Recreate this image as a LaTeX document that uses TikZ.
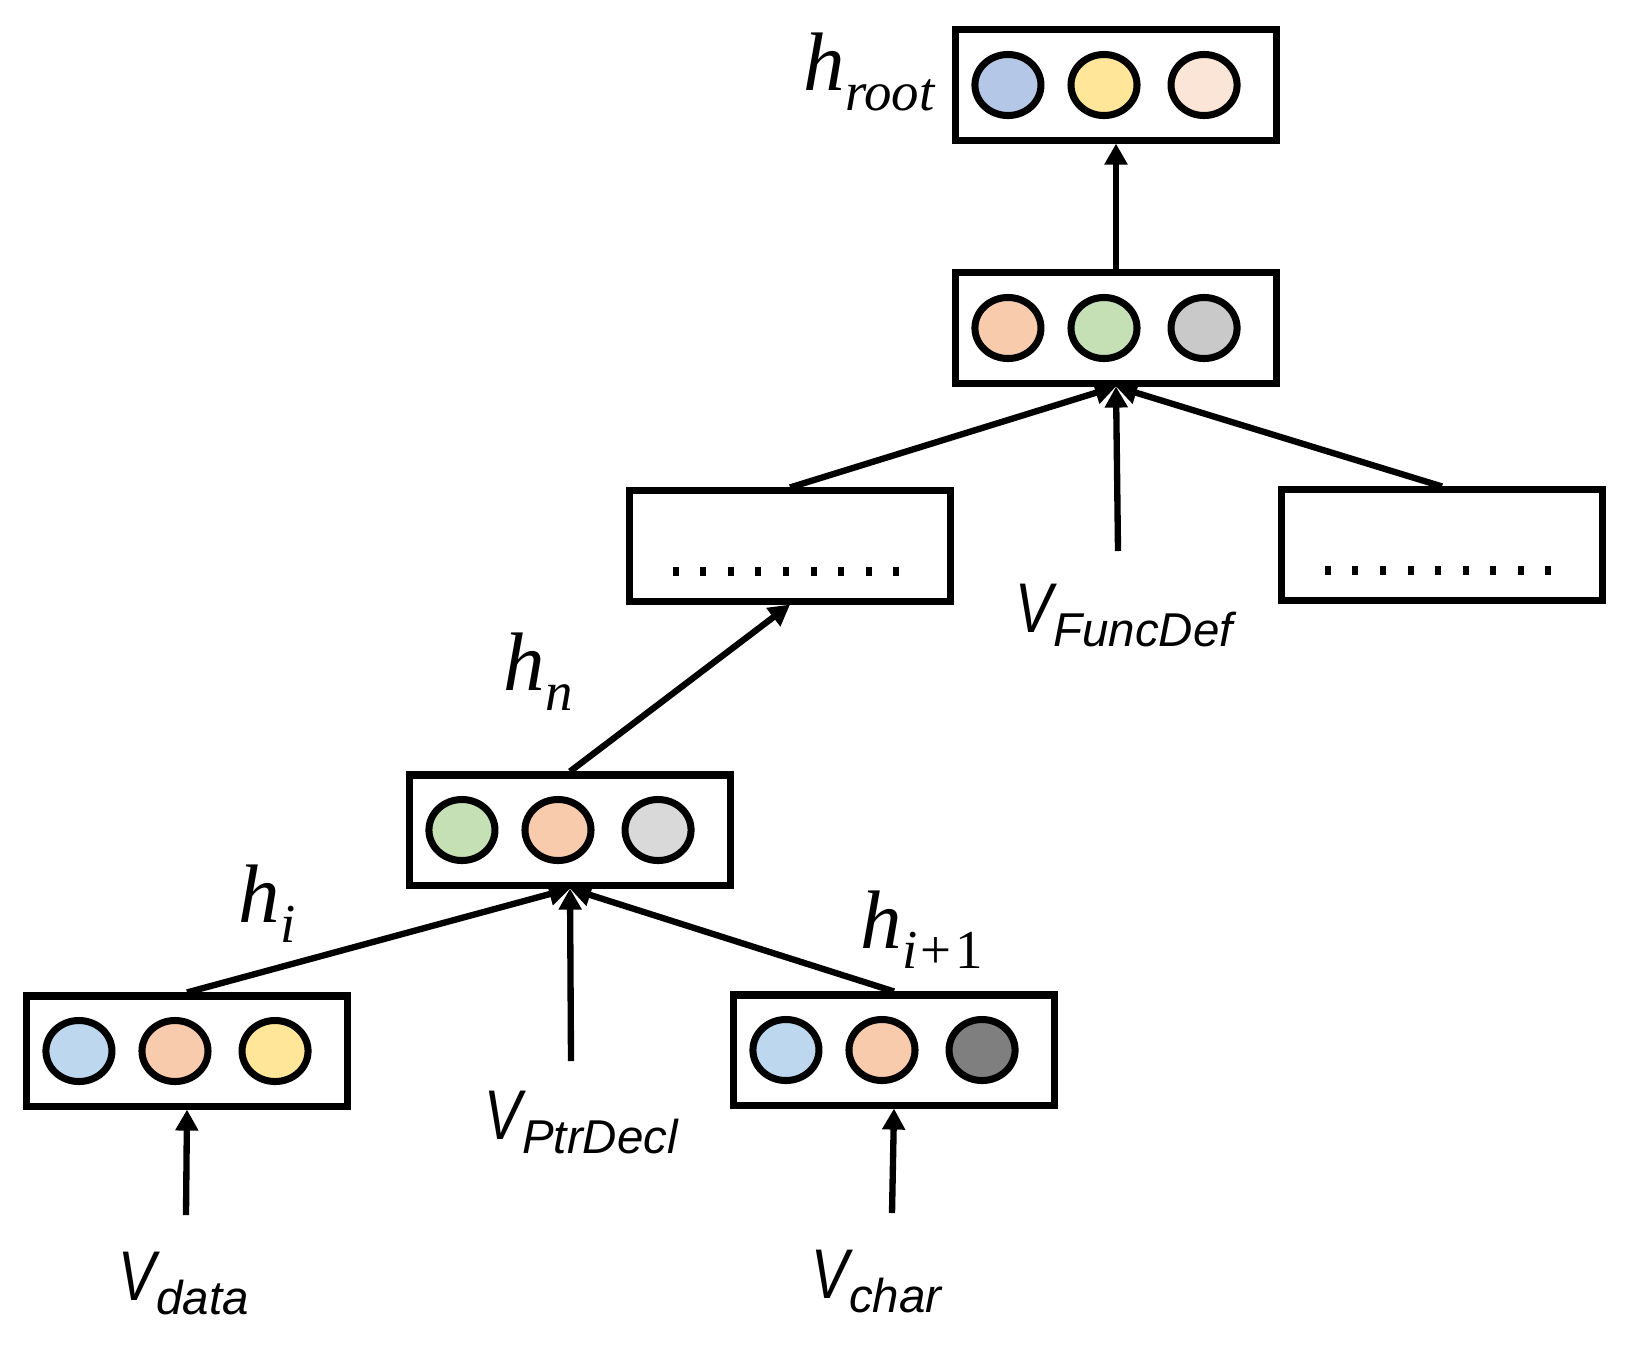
\documentclass[tikz,border=0pt]{standalone}
\usepackage{fontspec}
\setmainfont{Liberation Serif}
\setsansfont{Liberation Sans}
\newfontfamily\vfont[FakeStretch=0.8]{Liberation Sans}
\usetikzlibrary{arrows.meta}
\definecolor{cblue}{HTML}{B4C7E7}
\definecolor{cblueL}{HTML}{BDD7EE}
\definecolor{cyellow}{HTML}{FFE699}
\definecolor{cpeach}{HTML}{F8CBAD}
\definecolor{cpeachL}{HTML}{FBE5D6}
\definecolor{cgreen}{HTML}{C5E0B4}
\definecolor{cgrey}{HTML}{C9C9C9}
\definecolor{cgreyL}{HTML}{D9D9D9}
\definecolor{cgreyD}{HTML}{7F7F7F}
\newcommand{\hl}[1]{\fontsize{23.6}{26}\selectfont\textit{h}\raisebox{-5.7pt}{\fontsize{15.6}{17}\selectfont #1}}
\newcommand{\vl}[1]{{\fontsize{20}{22}\selectfont\vfont\itshape V}\raisebox{-4pt}{\fontsize{13.5}{15}\selectfont\sffamily\itshape #1}}
\newcommand{\balls}[4]{\foreach \dx/\col in {-1.08cm/#2,-0.12cm/#3,0.88cm/#4}
  \draw[ball,fill=\col] ([xshift=\dx]#1.center) ellipse [x radius=0.33cm,y radius=0.305cm];}
\tikzset{box/.style={draw,line width=2pt,minimum width=3.2cm,minimum height=1.1cm,inner sep=0pt},
  ball/.style={line width=2pt},
  link/.style={line width=1.8pt,-{Triangle[length=0.21cm,width=0.22cm]}},
  lab/.style={inner sep=0pt,anchor=base west}}

\begin{document}
\begin{tikzpicture}[x=0.01cm,y=-0.01cm]
\useasboundingbox (0,0) rectangle (1631,1348);
\node[box] (root) at (1116,85) {};
\node[box] (mid) at (1116,328) {};
\node[box] (dl) at (790,546) {};
\node[box] (dr) at (1442,545) {};
\node[box] (hn) at (570,830) {};
\node[box] (hi) at (187,1051) {};
\node[box] (hj) at (894,1050) {};
\balls{root}{cblue}{cyellow}{cpeachL}
\balls{mid}{cpeach}{cgreen}{cgrey}
\balls{hn}{cgreen}{cpeach}{cgreyL}
\balls{hi}{cblueL}{cpeach}{cyellow}
\balls{hj}{cblueL}{cpeach}{cgreyD}
\foreach \b in {dl,dr}\foreach \k in {0,...,8}
  \fill ([xshift={\k*0.275cm-1.17cm},yshift=-0.21cm]\b.center) rectangle +(6,9);

\coordinate (Vf) at (1118,551);
\coordinate (Vp) at (571,1061);
\coordinate (Vd) at (186,1215);
\coordinate (Vc) at (892,1213);
\draw[link] (mid.north) -- (root.south);
\draw[link] (dl.north) -- (mid.south);
\draw[link] (Vf) -- (mid.south);
\draw[link] (dr.north) -- (mid.south);
\draw[link] (hn.north) -- (dl.south);
\draw[link] (hi.north) -- (hn.south);
\draw[link] (Vp) -- (hn.south);
\draw[link] (hj.north) -- (hn.south);
\draw[link] (Vd) -- (hi.south);
\draw[link] (Vc) -- (hj.south);

\node[lab] (lroot) at (803,90) {\hl{\textit{root}}};
\node[lab] (lhn) at (503,690) {\hl{\textit{n}}};
\node[lab] (lhi) at (238,922) {\hl{\textit{i}}};
\node[lab] (lhj) at (860,948) {\hl{\textit{i}\hspace{1pt}+\hspace{1pt}1}};
\node[lab] (lvf) at (1015,632) {\vl{FuncDef}};
\node[lab] (lvp) at (484,1139) {\vl{PtrDecl}};
\node[lab] (lvd) at (118,1300) {\vl{data}};
\node[lab] (lvc) at (811,1298) {\vl{char}};
\end{tikzpicture}
\end{document}
